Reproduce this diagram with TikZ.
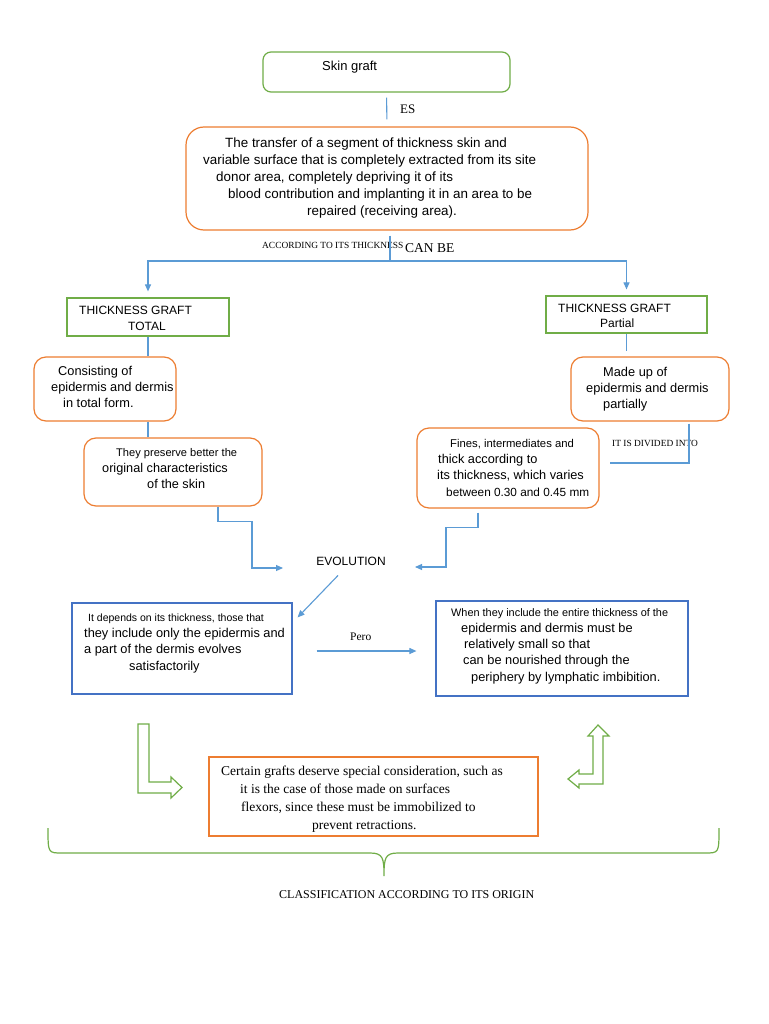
\documentclass[tikz,border=0pt]{standalone}
\usepackage{fontspec}
\setmainfont{Liberation Sans}
\newfontfamily\tnr{Liberation Serif}
\usetikzlibrary{calc, arrows.meta}
\definecolor{grn}{HTML}{70AD47}
\definecolor{org}{HTML}{ED7D31}
\definecolor{blu}{HTML}{5B9BD5}
\definecolor{bbx}{HTML}{4472C4}
\newcommand\ftn{\tnr\fontsize{13.5}{18}\selectfont}
\newcommand\ftsm{\tnr\fontsize{9.4}{11}\selectfont}
\tikzset{
  gbox/.style={draw=grn, line width=1.2pt, inner sep=0pt},
  obox/.style={draw=org, line width=1.2pt, inner sep=0pt},
  bbox/.style={draw=bbx, line width=1.2pt, inner sep=0pt},
  bline/.style={draw=blu, line width=1.1pt},
  tip/.style={-{Triangle[length=7pt,width=6pt]}},
  txt/.style={anchor=base west, inner sep=0pt, align=left},
  hollow/.style={draw=grn, line width=1.2pt, fill=white},
}
\begin{document}
\begin{tikzpicture}[x=1pt, y=-1pt]
\useasboundingbox[fill=white] (0,0) rectangle (768,1024);

\node[gbox, rounded corners=8pt, minimum width=247pt, minimum height=40pt] (skin) at (386.5,72) {};
\node[txt, font=\fontsize{13}{15}\selectfont] (skinT) at (322,71) {Skin graft};
\node[txt, font=\tnr\fontsize{13}{15}\selectfont] (es) at (400,114) {ES};

\node[obox, rounded corners=18pt, minimum width=402pt, minimum height=103pt] (def) at (387,178.5) {};
\node[txt, font=\fontsize{13.4}{16.8}\selectfont] (defT) at (203,215) {\hspace*{22pt}The transfer of a segment of thickness skin and\\
variable surface that is completely extracted from its site\\
\hspace*{13pt}donor area, completely depriving it of its\\
\hspace*{25pt}blood contribution and implanting it in an area to be\\
\hspace*{104pt}repaired (receiving area).};

\node[txt, font=\ftsm] (accT) at (262,248) {ACCORDING TO ITS THICKNESS};
\node[txt, font=\tnr\fontsize{13.5}{15}\selectfont] (canT) at (405,252) {CAN BE};
\coordinate (split) at (390,261);

\node[gbox, minimum width=162pt, minimum height=38pt] (total) at (148,317) {};
\node[txt, font=\fontsize{12}{16}\selectfont] (totalT) at (79,330) {THICKNESS GRAFT\\\hspace*{49pt}TOTAL};
\node[gbox, minimum width=161pt, minimum height=37pt] (partial) at (626.5,314.5) {};
\node[txt, font=\fontsize{12}{15}\selectfont] (partialT) at (558,327) {THICKNESS GRAFT\\\hspace*{42pt}Partial};

\node[obox, rounded corners=12pt, minimum width=142pt, minimum height=64pt] (cons) at (105,389) {};
\node[txt, font=\fontsize{12.8}{16}\selectfont] (consT) at (51,407) {\hspace*{7pt}Consisting of\\epidermis and dermis\\\hspace*{12pt}in total form.};
\node[obox, rounded corners=12pt, minimum width=158pt, minimum height=64pt] (made) at (650,389) {};
\node[txt, font=\fontsize{12.8}{16}\selectfont] (madeT) at (586,408) {\hspace*{17pt}Made up of\\epidermis and dermis\\\hspace*{17pt}partially};

\node[obox, rounded corners=12pt, minimum width=178pt, minimum height=68pt] (pres) at (173,472) {};
\node[txt, font=\fontsize{12.7}{16}\selectfont] (presT) at (102,488) {\hspace*{14pt}{\fontsize{11.1}{12}\selectfont They preserve better the}\\original characteristics\\\hspace*{45pt}of the skin};
\node[obox, rounded corners=12pt, minimum width=182pt, minimum height=80pt] (fines) at (508,468) {};
\node[txt, font=\fontsize{12.75}{16.3}\selectfont] (finesT) at (437,496) {\hspace*{13pt}{\fontsize{11.3}{12}\selectfont Fines, intermediates and}\\
\hspace*{1pt}thick according to\\
its thickness, which varies\\
\hspace*{9pt}{\fontsize{11.8}{13}\selectfont between 0.30 and 0.45 mm}};
\node[txt, font=\ftsm] (divT) at (612,446) {IT IS DIVIDED INTO};
\coordinate (divEnd) at (610,463);

\node[font=\fontsize{12}{14}\selectfont, inner sep=0pt] (evo) at (351,561) {EVOLUTION};
\coordinate (evoL) at (283,568);
\coordinate (evoR) at (415,567);

\node[bbox, minimum width=220pt, minimum height=91pt] (dep) at (182,648.5) {};
\node[txt, font=\fontsize{12.8}{16.3}\selectfont] (depT) at (84,670) {\hspace*{4pt}{\fontsize{10.5}{12}\selectfont It depends on its thickness, those that}\\
they include only the epidermis and\\
a part of the dermis evolves\\
\hspace*{45pt}satisfactorily};
\node[bbox, minimum width=252pt, minimum height=95pt] (when) at (562,648.5) {};
\node[txt, font=\fontsize{12.8}{16.2}\selectfont] (whenT) at (451,681) {{\fontsize{10.9}{12}\selectfont When they include the entire thickness of the}\\
\hspace*{10pt}epidermis and dermis must be\\
\hspace*{13pt}relatively small so that\\
\hspace*{12pt}can be nourished through the\\
\hspace*{20pt}periphery by lymphatic imbibition.};
\node[txt, font=\tnr\fontsize{11.5}{13}\selectfont] (peroT) at (350,640) {Pero};

\node[obox, minimum width=329pt, minimum height=79pt] (note) at (373.5,796.5) {};
\node[txt, font=\ftn] (noteT) at (221,829) {Certain grafts deserve special consideration, such as\\
\hspace*{19pt}it is the case of those made on surfaces\\
\hspace*{20pt}flexors, since these must be immobilized to\\
\hspace*{91pt}prevent retractions.};
\node[txt, font=\tnr\fontsize{12}{14}\selectfont] (classT) at (279,898) {CLASSIFICATION ACCORDING TO ITS ORIGIN};

\draw[bline, shorten <=5pt, shorten >=7pt] (skin.south) -- (def.north);
\draw[bline] ($(def.south)+(3,5)$) -- (split);
\draw[bline, tip, shorten >=6pt] (split) -| (total.north);
\draw[bline, tip, shorten >=6pt] (split) -| (partial.north);
\draw[bline] (total.south) -- (cons.north -| total.south);
\draw[bline] (cons.south -| total.south) -- (pres.north -| total.south);
\draw[bline, shorten >=5pt] (partial.south) -- (made.north -| partial.south);
\draw[bline] ($(made.south)+(39,2)$) |- (divEnd);
\draw[bline, tip] ($(pres.south)+(45,0)$) -- ++(0,15) -- ++(34,0) |- (evoL);
\draw[bline, tip] ($(fines.south)+(-30,4)$) -- ++(0,15) -- ++(-32,0) |- (evoR);
\draw[bline, tip] ($(evo.south)+(-13,10)$) -- ($(dep.north east)+(5,15)$);
\draw[bline, tip, shorten <=24pt, shorten >=19pt] ($(dep.east)+(0,2.5)$) -- ($(when.west)+(0,2.5)$);

\draw[hollow] (138,724) -- (149,724) -- (149,782) -- (171,782) -- (171,777) -- (182,787.5) -- (171,798) -- (171,793) -- (138,793) -- cycle;
\draw[hollow] (603,736) -- (609,736) -- (598,725) -- (588,736) -- (593,736) -- (593,774) -- (579,774) -- (579,770) -- (568,779) -- (579,788) -- (579,784) -- (603,784) -- cycle;

\draw[draw=grn, line width=1.2pt] (48,828) .. controls (48,853) and (48,853) .. (62,853) -- (370,853) .. controls (383,853) and (384,858) .. (384,876)
  (384,876) .. controls (384,858) and (385,853) .. (398,853) -- (705,853) .. controls (719,853) and (719,853) .. (719,828);
\end{tikzpicture}
\end{document}
